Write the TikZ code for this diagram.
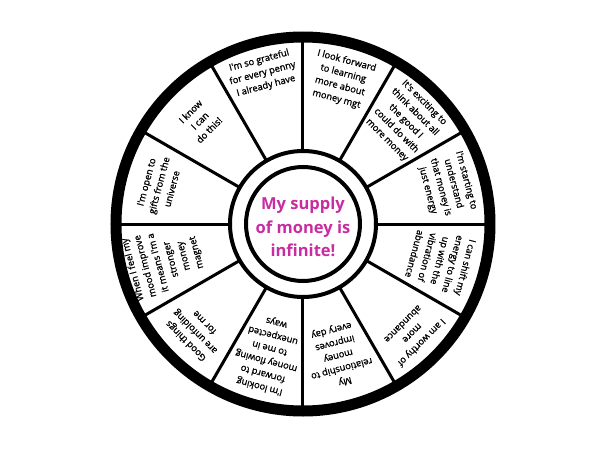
\documentclass[tikz,border=0pt]{standalone}
\usepackage{fontspec}
\setmainfont{Open Sans}
\newfontfamily\wishfont{Open Sans}[FakeBold=1.2]
\definecolor{affirm}{RGB}{200,44,160}
\tikzset{
  wish/.style={align=center,inner sep=0pt,font=\wishfont\fontsize{5.3}{7.5}\selectfont},
  spoke/.style={line width=0.06cm},
}
\begin{document}
\begin{tikzpicture}
  \useasboundingbox (-6.06,-4.52) rectangle (5.94,4.48);
  \coordinate (O) at (0,0);
  % wheel
  \draw[line width=0.22cm] (O) circle (3.74);
  \draw[line width=0.08cm] (O) circle (1.46);
  \draw[line width=0.08cm] (O) circle (1.14);
  \foreach \a in {0,30,...,330}
    \draw[spoke] (\a:1.48) -- (\a:3.64);
  % affirmations
  \foreach \a/\r/\t [count=\i] in {
      105/3.12/{I'm so grateful\\for every penny\\I already have},
      75/2.98/{I look forward\\to learning\\more about\\money mgt},
      45/2.9/{It's exciting to\\think about all\\the good I\\could do with\\more money},
      15/2.98/{I'm starting to\\understand\\that money is\\just energy},
      -15/2.84/{I can shift my\\energy to line\\up with the\\vibration of\\abundance},
      -45/3.1/{I am worthy of\\more\\abundance},
      -75/2.72/{My\\relationship to\\money\\improves\\every day},
      -105/2.7/{I'm looking\\forward to\\money flowing\\to me in\\unexpected\\ways},
      -135/3.06/{Good things\\are unfolding\\for me},
      195/2.86/{When I feel my\\mood improve\\it means I'm a\\stronger\\money\\magnet},
      165/2.98/{I'm open to\\gifts from the\\universe},
      135/2.92/{I know\\I can\\do this!}}
    \node[wish,rotate=\a-90] (w\i) at (\a:\r) {\t};
  \node[align=center,text=affirm,font=\bfseries\fontsize{9.4}{13.2}\selectfont] (goal) at (0,-0.06) {My supply\\of money is\\infinite!};
\end{tikzpicture}
\end{document}
